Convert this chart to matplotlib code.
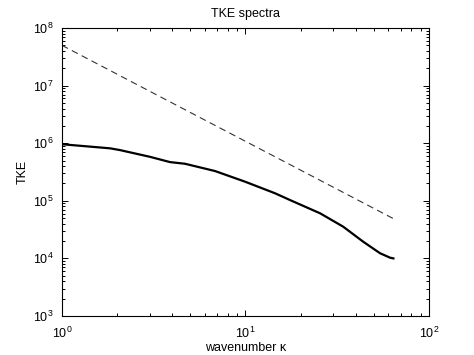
import numpy as np
import matplotlib
matplotlib.use('Agg')
from matplotlib import pyplot as plt
from matplotlib.ticker import LogLocator, NullFormatter

plt.rcParams['font.family'] = ['Liberation Sans', 'DejaVu Sans']
plt.rcParams['mathtext.fontset'] = 'custom'
plt.rcParams['mathtext.rm'] = 'Liberation Sans'
plt.rcParams['font.size'] = 9

# TKE spectrum
wavenumber = [1, 1.83, 2.07, 3.02, 3.88, 4.68, 6.82, 9.94, 14.5, 17.5,
               25.5, 34.1, 43.8, 54.1, 61.3, 64]
tke = [9.6e5, 8.15e5, 7.6e5, 5.8e5, 4.7e5, 4.4e5, 3.29e5, 2.15e5, 1.35e5, 1.03e5,
       6.07e4, 3.55e4, 1.95e4, 1.23e4, 1.03e4, 1.0e4]

# reference slope line (dashed)
ref_k = [1, 64]
ref_e = [5.0e7, 4.9e4]

fig = plt.figure(figsize=(4.74, 3.55), dpi=100)
ax = fig.add_axes([0.1308, 0.1099, 0.905 - 0.1308, 0.921 - 0.1099])

ax.loglog(wavenumber, tke, color='black', lw=1.6)
ax.loglog(ref_k, ref_e, color='#333333', lw=0.8, dashes=(6, 4))

ax.set_xlim(1, 100)
ax.set_ylim(1e3, 1e8)
ax.set_xticks([1, 10, 100])
ax.set_xticklabels(['$10^{0}$', '$10^{1}$', '$10^{2}$'])
ax.set_yticks([1e3, 1e4, 1e5, 1e6, 1e7, 1e8])
ax.set_yticklabels(['$10^{%d}$' % e for e in range(3, 9)])
ax.xaxis.set_minor_locator(LogLocator(base=10, subs=np.arange(2, 10)))
ax.yaxis.set_minor_locator(LogLocator(base=10, subs=np.arange(2, 10)))
ax.xaxis.set_minor_formatter(NullFormatter())
ax.yaxis.set_minor_formatter(NullFormatter())
ax.tick_params(which='both', direction='in', top=True, right=True, width=0.7)
ax.tick_params(axis='x', which='major', length=4, pad=7)
ax.tick_params(axis='y', which='major', length=4, pad=6)
ax.tick_params(which='minor', length=2.5)
for s in ax.spines.values():
    s.set_linewidth(0.8)

ax.set_title('TKE spectra', fontsize=9, pad=8)
ax.set_xlabel('wavenumber κ', labelpad=1)
ax.set_ylabel('TKE', labelpad=3)

fig.savefig('out.png', dpi=100)
